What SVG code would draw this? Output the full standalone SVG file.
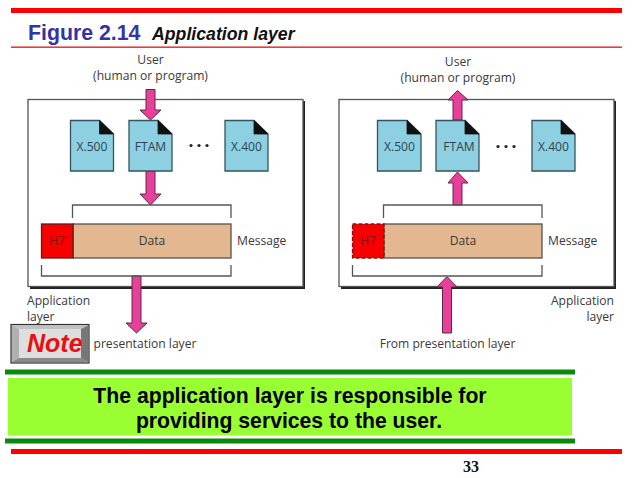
<svg xmlns="http://www.w3.org/2000/svg" width="638" height="478" viewBox="0 0 638 478">
<style>
.t{font-family:"Open Sans","Noto Sans",sans-serif;font-size:12.1px;fill:#3a3a3a}
.m{text-anchor:middle}
.e{text-anchor:end}
.ft{font-family:"Open Sans","Noto Sans",sans-serif;font-size:12.1px;fill:#2f4450;text-anchor:middle}
.doc{fill:#8dd0e2;stroke:#35535f;stroke-width:1.3}
.fold{fill:#111;stroke:#111;stroke-width:.8}
.layer{fill:#fff;stroke:#555;stroke-width:1.3}
.shadow{fill:#222}
.data{fill:#e3b78f;stroke:#5a5048;stroke-width:1.3}
.h{fill:#f60000;stroke:#5a2020;stroke-width:1.3}
.hd{fill:#f60000;stroke:#8a1010;stroke-width:1.3;stroke-dasharray:4 2}
.hl{font-family:"Open Sans","Noto Sans",sans-serif;font-size:12px;fill:#8a1515;text-anchor:middle}
.br{fill:none;stroke:#555;stroke-width:1.3}
.ar{fill:#e8409a;stroke:#5a2a48;stroke-width:1}
.dot{fill:#222}
.s{font-family:"Liberation Sans",Arial,sans-serif;font-weight:bold;font-size:21.2px;fill:#000;text-anchor:middle}
</style>
<g id="frame">
<rect x="11" y="8" width="611" height="5" fill="#f00"/>
<rect x="11" y="46.500" width="611" height="1.300" fill="#e01010"/>
<rect x="11" y="449" width="611" height="5" fill="#f00"/>
</g>
<g id="title">
<text x="28" y="40" font-family="'Liberation Sans',Arial,sans-serif" font-weight="bold" font-size="21.300" fill="#3333a5">Figure 2.14</text>
<text x="152" y="40" font-family="'Liberation Sans',Arial,sans-serif" font-weight="bold" font-style="italic" font-size="17.700" fill="#111">Application layer</text>
</g>
<g id="left-layer">
<rect class="shadow" x="30" y="101" width="275" height="188"/>
<rect class="layer" x="28" y="99.500" width="275" height="187"/>
</g>
<g id="right-layer">
<rect class="shadow" x="341" y="101" width="275" height="188"/>
<rect class="layer" x="339" y="99.500" width="275" height="187"/>
</g>
<g id="connectors">
<path class="ar" d="M146 89.500H155V110H161L150.500 120L140 110H146Z"/>
<path class="ar" d="M146 171H155V194H161L150.500 205L140 194H146Z"/>
<path class="ar" d="M132 276H141V323H147L136.500 333L126 323H132Z"/>
<path class="ar" d="M453 120V100H448L457.500 90.500L468 100H462V120Z"/>
<path class="ar" d="M453 205V183H448L457.500 172L468 183H462V205Z"/>
<path class="ar" d="M442.500 333V287H437L447 276.500L457 287H451.500V333Z"/>
</g>
<g id="left-user"><text class="t m" x="150.500" y="64">User</text><text class="t m" x="150.500" y="80">(human or program)</text></g>
<g id="right-user"><text class="t m" x="458" y="66">User</text><text class="t m" x="458" y="82">(human or program)</text></g>
<g id="left-x500"><path class="doc" d="M70.500 120.500H99.500L113.500 134V171H70.500Z"/><path class="fold" d="M99.500 120.500L113.500 134H99.500Z"/><text class="ft" x="92" y="151">X.500</text></g>
<g id="left-ftam"><path class="doc" d="M129 120.500H158L172 134V171H129Z"/><path class="fold" d="M158 120.500L172 134H158Z"/><text class="ft" x="150.500" y="151">FTAM</text></g>
<g id="left-x400"><path class="doc" d="M225 120.500H254L268 134V171H225Z"/><path class="fold" d="M254 120.500L268 134H254Z"/><text class="ft" x="246.500" y="151">X.400</text></g>
<g id="left-dots"><circle class="dot" cx="191" cy="145.500" r="1.600"/><circle class="dot" cx="199" cy="145.500" r="1.600"/><circle class="dot" cx="207" cy="145.500" r="1.600"/></g>
<g id="right-x500"><path class="doc" d="M377.500 120.500H407L421 134V171H377.500Z"/><path class="fold" d="M407 120.500L421 134H407Z"/><text class="ft" x="399.500" y="151">X.500</text></g>
<g id="right-ftam"><path class="doc" d="M436 120.500H465L479 134V171H436Z"/><path class="fold" d="M465 120.500L479 134H465Z"/><text class="ft" x="459" y="151">FTAM</text></g>
<g id="right-x400"><path class="doc" d="M532 120.500H561L575 134V171H532Z"/><path class="fold" d="M561 120.500L575 134H561Z"/><text class="ft" x="553.500" y="151">X.400</text></g>
<g id="right-dots"><circle class="dot" cx="498" cy="146.500" r="1.600"/><circle class="dot" cx="506" cy="146.500" r="1.600"/><circle class="dot" cx="514" cy="146.500" r="1.600"/></g>
<g id="left-message">
<path class="br" d="M72.500 218V205H231V218"/>
<rect class="data" x="73" y="224" width="158" height="34"/>
<rect class="h" x="41.500" y="224" width="31.500" height="34"/>
<text class="hl" x="57" y="245">H7</text>
<text class="ft" style="fill:#3a3a3a" x="152" y="245">Data</text>
<path class="br" d="M41.500 265V276H231V265"/>
<text class="t" x="237" y="245">Message</text>
</g>
<g id="right-message">
<path class="br" d="M383.500 218V205H542V218"/>
<rect class="data" x="384" y="224" width="158" height="34"/>
<rect class="hd" x="352.500" y="224" width="31.500" height="34"/>
<text class="hl" x="368" y="245">H7</text>
<text class="ft" style="fill:#3a3a3a" x="463" y="245">Data</text>
<path class="br" d="M352.500 265V276H542V265"/>
<text class="t" x="548" y="245">Message</text>
</g>
<g id="left-label"><text class="t" x="27" y="305">Application</text><text class="t" x="27" y="321">layer</text></g>
<g id="right-label"><text class="t e" x="614" y="305">Application</text><text class="t e" x="614" y="321">layer</text></g>
<g id="left-presentation"><text class="t" x="93.500" y="348">presentation layer</text></g>
<g id="right-presentation"><text class="t m" x="447.500" y="348">From presentation layer</text></g>
<g id="note">
<rect x="11" y="324.500" width="78" height="38.500" fill="#c8c8c8" stroke="#333" stroke-width="1.200"/>
<path d="M12 325.500H88L81 329H19Z" fill="#c2c2c2"/>
<path d="M88 325.500V362L81 358V329Z" fill="#777"/>
<path d="M12 362H88L81 358H19Z" fill="#888"/>
<path d="M12 325.500V362L19 358V329Z" fill="#b0b0b0"/>
<rect x="19" y="329" width="62" height="29" fill="#dedede"/>
<text x="27" y="352" font-family="'Liberation Sans',Arial,sans-serif" font-weight="bold" font-style="italic" font-size="25" fill="#e81010">Note</text>
</g>
<g id="statement">
<rect x="5" y="369.500" width="570" height="5" fill="#0a8a0a"/>
<rect x="8" y="378" width="564" height="57.500" fill="#99ff33"/>
<rect x="5" y="438.500" width="570" height="5" fill="#0a8a0a"/>
<text class="s" x="290" y="403">The application layer is responsible for</text>
<text class="s" x="289" y="428">providing services to the user.</text>
</g>
<g id="page"><text x="471" y="472" font-family="'Liberation Serif',serif" font-weight="bold" font-size="16" fill="#111" text-anchor="middle">33</text></g>
</svg>
